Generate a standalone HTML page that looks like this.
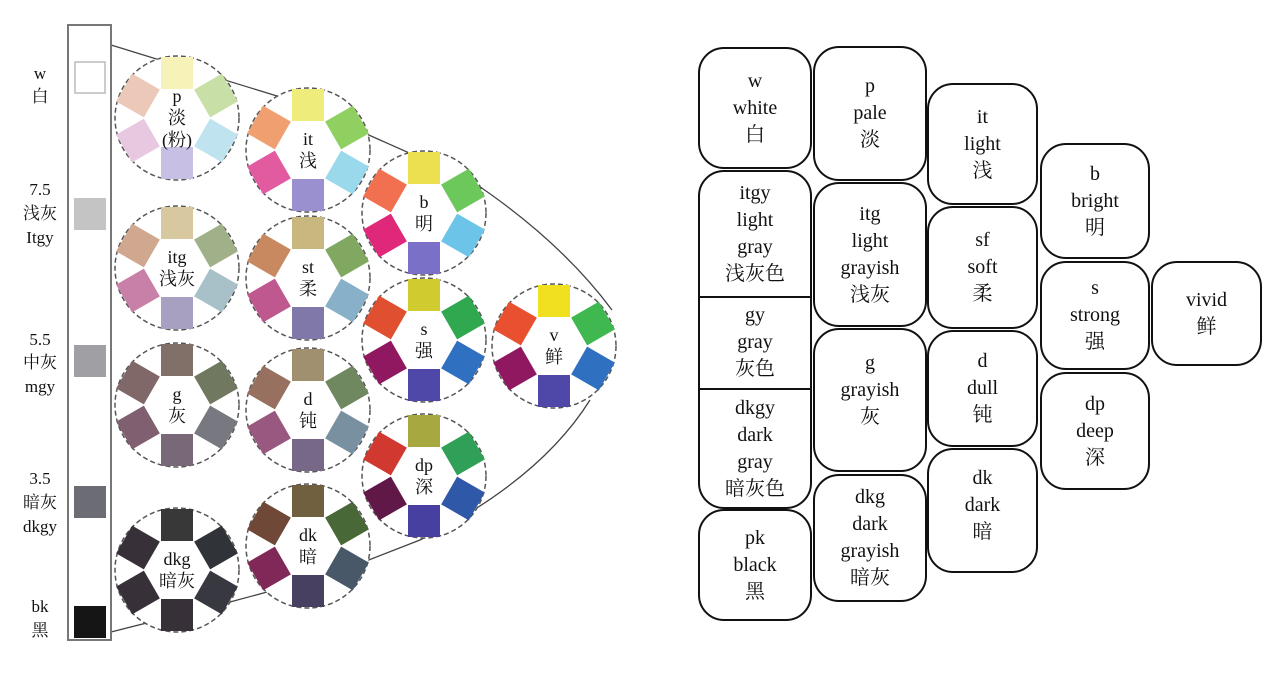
<!DOCTYPE html>
<html><head><meta charset="utf-8"><style>
body{margin:0;background:#fff;width:1280px;height:696px;position:relative;overflow:hidden;font-family:"Liberation Serif","Noto Serif CJK SC",serif}
.b{position:absolute;border:2.2px solid #111;border-radius:26px;box-sizing:border-box;display:flex;flex-direction:column;justify-content:center;align-items:center;font-size:20px;line-height:27px;color:#111;background:#fff;text-align:center}
</style></head><body>
<svg width="700" height="696" style="position:absolute;left:0;top:0" font-family="Liberation Serif,Noto Serif CJK SC,serif">
<g fill="none" stroke="#444" stroke-width="1.3">
<path d="M111,45 L290,100 L470,180 Q560,240 612,310"/>
<path d="M111,632 L230,602 L330,575 L420,540 Q540,480 590,400"/>
</g>
<rect x="68" y="25" width="43" height="615" fill="#fff" stroke="#777" stroke-width="2"/>
<rect x="75" y="62" width="30" height="31" fill="#fff" stroke="#bbb" stroke-width="1.5"/>
<rect x="74" y="198" width="32" height="32" fill="#c4c4c4"/>
<rect x="74" y="345" width="32" height="32" fill="#a0a0a4"/>
<rect x="74" y="486" width="32" height="32" fill="#6c6c74"/>
<rect x="74" y="606" width="32" height="32" fill="#151515"/>
<g font-size="17" text-anchor="middle" fill="#111">
<text x="40" y="79">w</text><text x="40" y="102">白</text>
<text x="40" y="195">7.5</text><text x="40" y="219">浅灰</text><text x="40" y="243">Itgy</text>
<text x="40" y="345">5.5</text><text x="40" y="368">中灰</text><text x="40" y="392">mgy</text>
<text x="40" y="484">3.5</text><text x="40" y="508">暗灰</text><text x="40" y="532">dkgy</text>
<text x="40" y="612">bk</text><text x="40" y="636">黑</text>
</g>
<g id="c"></g>
</svg>
<script>
var C=[
[177,118,["#f7f3b8","#c8e0a8","#bfe4f0","#c8c0e4","#e8c8e0","#ecc8b8"],["p","淡","(粉)"]],
[308,150,["#eeec7a","#8fd060","#9ad8ec","#9a90d0","#e25aa0","#f0a070"],["it","浅"]],
[424,213,["#ece050","#6cc85a","#6cc4e8","#7a70c8","#e0287a","#f07050"],["b","明"]],
[177,268,["#d8c8a0","#a0b088","#a8c0c8","#a8a0c0","#c880a8","#d0a890"],["itg","浅灰"]],
[308,278,["#c8b880","#80a860","#88b0c8","#8078a8","#c05890","#c88860"],["st","柔"]],
[424,340,["#d0cc30","#30a850","#3070c0","#5048a8","#901860","#e05030"],["s","强"]],
[554,346,["#f0e020","#40b850","#3070c0","#5048a8","#901860","#e85030"],["v","鲜"]],
[177,405,["#807068","#707860","#787880","#786878","#806070","#806868"],["g","灰"]],
[308,410,["#a09070","#708860","#7890a0","#786888","#985880","#987060"],["d","钝"]],
[424,476,["#a8a840","#30a058","#3058a8","#4840a0","#601848","#d03830"],["dp","深"]],
[177,570,["#383838","#303438","#383840","#383038","#383038","#383038"],["dkg","暗灰"]],
[308,546,["#706040","#486838","#485868","#484060","#802858","#704838"],["dk","暗"]]];
var s="";
C.forEach(function(c){var x=c[0],y=c[1];
s+='<circle cx="'+x+'" cy="'+y+'" r="62" fill="#fff" stroke="#555" stroke-width="1.5" stroke-dasharray="5,3"/>';
for(var i=0;i<6;i++){var a=-90+60*i,r=a*Math.PI/180,px=x+45*Math.cos(r),py=y+45*Math.sin(r);
s+='<rect x="-16" y="-16" width="32" height="32" fill="'+c[2][i]+'" transform="translate('+px.toFixed(1)+','+py.toFixed(1)+') rotate('+(a+90)+')"/>';}
var L=c[3],n=L.length,y0=y-(n-1)*11+6;
L.forEach(function(t,j){s+='<text x="'+x+'" y="'+(y0+j*22)+'" font-size="18" text-anchor="middle" fill="#111">'+t+'</text>';});
});
document.getElementById("c").innerHTML=s;
</script>
<div class="b" style="left:698px;top:47px;width:114px;height:122px">w<br>white<br>白</div>
<div class="b" style="left:698px;top:170px;width:114px;height:339px;justify-content:flex-start">
<div style="height:125px;width:100%;display:flex;flex-direction:column;justify-content:center">itgy<br>light<br>gray<br>浅灰色</div>
<div style="height:92px;width:100%;border-top:2.2px solid #111;border-bottom:2.2px solid #111;display:flex;flex-direction:column;justify-content:center">gy<br>gray<br>灰色</div>
<div style="height:118px;width:100%;display:flex;flex-direction:column;justify-content:center">dkgy<br>dark<br>gray<br>暗灰色</div>
</div>
<div class="b" style="left:698px;top:509px;width:114px;height:112px">pk<br>black<br>黑</div>
<div class="b" style="left:813px;top:46px;width:114px;height:135px">p<br>pale<br>淡</div>
<div class="b" style="left:813px;top:182px;width:114px;height:145px">itg<br>light<br>grayish<br>浅灰</div>
<div class="b" style="left:813px;top:328px;width:114px;height:144px;padding-bottom:20px">g<br>grayish<br>灰</div>
<div class="b" style="left:813px;top:474px;width:114px;height:128px">dkg<br>dark<br>grayish<br>暗灰</div>
<div class="b" style="left:927px;top:83px;width:111px;height:122px">it<br>light<br>浅</div>
<div class="b" style="left:927px;top:206px;width:111px;height:123px">sf<br>soft<br>柔</div>
<div class="b" style="left:927px;top:330px;width:111px;height:117px">d<br>dull<br>钝</div>
<div class="b" style="left:927px;top:448px;width:111px;height:125px;padding-bottom:10px">dk<br>dark<br>暗</div>
<div class="b" style="left:1040px;top:143px;width:110px;height:116px">b<br>bright<br>明</div>
<div class="b" style="left:1040px;top:261px;width:110px;height:109px">s<br>strong<br>强</div>
<div class="b" style="left:1040px;top:372px;width:110px;height:118px">dp<br>deep<br>深</div>
<div class="b" style="left:1151px;top:261px;width:111px;height:105px">vivid<br>鲜</div>
</body></html>
